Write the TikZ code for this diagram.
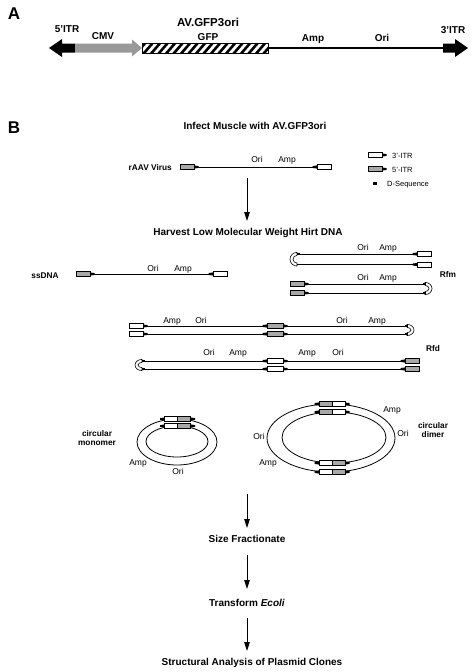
\documentclass[tikz,border=0pt]{standalone}
\usepackage{fontspec}
\setmainfont{Liberation Sans}
\usetikzlibrary{arrows.meta}
\definecolor{itrgray}{gray}{0.66}
\definecolor{cmvgray}{gray}{0.6}
\tikzset{
  txt/.style={inner sep=0pt, text height=0.72em, text depth=0pt},
  lab/.style={txt, font=\fontsize{8.5}{10}\selectfont},
  leg/.style={txt, font=\fontsize{7.5}{9}\selectfont, anchor=west},
  blab/.style={txt, font=\fontsize{8.3}{9.5}\selectfont\bfseries},
  blabtwo/.style={inner sep=0pt, align=center, font=\fontsize{8.3}{9.5}\selectfont\bfseries},
  ttl/.style={txt, font=\fontsize{10}{12}\selectfont\bfseries},
  alab/.style={txt, font=\fontsize{10}{12}\selectfont\bfseries},
  panel/.style={txt, font=\fontsize{17}{20}\selectfont\bfseries},
  dna/.style={line width=0.8pt},
  arr/.style={line width=0.9pt, -{Triangle[length=9pt,width=5.5pt]}},
  itr/.pic={
    \draw[line width=0.6pt, fill=#1] (0,-2.5) rectangle (14,2.5);
    \fill (14,-1.6) -- (18.5,-0.9) -- (18.5,0.9) -- (14,1.6) -- cycle;
  },
  midbox/.pic={
    \fill (0,-1.6) -- (-4.5,-0.9) -- (-4.5,0.9) -- (0,1.6) -- cycle;
    \draw[line width=0.6pt, fill=#1] (0,-2.5) rectangle (16,2.5);
    \fill (16,-1.6) -- (20.5,-0.9) -- (20.5,0.9) -- (16,1.6) -- cycle;
  },
  hairpin/.pic={
    \draw[line width=0.6pt, fill=white] (0,{-#1-1.6}) arc[start angle=270, end angle=90, x radius=7, y radius={#1+1.6}]
      -- (0,{#1-1.4}) arc[start angle=90, end angle=270, x radius=4, y radius={#1-1.4}] -- cycle;
    \fill (-0.5,{-#1-0.9}) rectangle (2.5,{-#1+0.9});
    \fill (-0.5,{#1-0.9}) rectangle (2.5,{#1+0.9});
  },
  pics/dbox/.style n args={2}{code={
    \fill (-13,-1.6) -- (-17.5,-0.9) -- (-17.5,0.9) -- (-13,1.6) -- cycle;
    \fill (13,-1.6) -- (17.5,-0.9) -- (17.5,0.9) -- (13,1.6) -- cycle;
    \draw[line width=0.6pt, fill=#1] (-13,-2.5) rectangle (0,2.5);
    \draw[line width=0.6pt, fill=#2] (0,-2.5) rectangle (13,2.5);
  }},
}
\begin{document}
\begin{tikzpicture}[x=1pt,y=-1pt]
\useasboundingbox (0,0) rectangle (474,672);
% ---------------- Part A ----------------
\node[panel] (labA) at (14,16) {A};
\fill (49,48) -- (62,39) -- (62,43.5) -- (75,43.5) -- (75,52.5) -- (62,52.5) -- (62,57) -- cycle;
\fill[cmvgray] (75,43.5) -- (132,43.5) -- (132,39.5) -- (142,48) -- (132,56.5) -- (132,52.5) -- (75,52.5) -- cycle;
\begin{scope}
  \clip (142,43.5) rectangle (268,53.5);
  \foreach \i in {134,141.5,...,276} \draw[line width=2.6pt] (\i,56) -- (\i+13,41);
\end{scope}
\draw[line width=0.8pt] (142,43.5) rectangle (268,53.5);
\draw[line width=1.2pt] (268,48) -- (443,48);
\fill (443,43.5) -- (455,43.5) -- (455,39) -- (468,48) -- (455,57) -- (455,52.5) -- (443,52.5) -- cycle;
\node[alab] (t5itr) at (67,29) {5'ITR};
\node[alab] (tcmv) at (103,36) {CMV};
\node[txt, font=\fontsize{11.5}{13}\selectfont\bfseries] (tav) at (208,23) {AV.GFP3ori};
\node[alab] (tgfp) at (208,37) {GFP};
\node[alab] (tamp) at (313,38) {Amp};
\node[alab] (tori) at (382,38) {Ori};
\node[alab] (t3itr) at (453,30) {3'ITR};
% ---------------- Part B ----------------
\node[panel] (labB) at (14,130) {B};
\node[ttl] (infect) at (255,126) {Infect Muscle with AV.GFP3ori};
% virus
\node[blab, anchor=east] (raav) at (172,167) {rAAV Virus};
\pic at (180,167) {itr=itrgray};
\draw[dna] (198,167) -- (313,167);
\pic[xscale=-1] at (331,167) {itr=white};
\node[lab] (vori) at (257,159) {Ori};
\node[lab] (vamp) at (287,159) {Amp};
% legend
\pic at (368,155) {itr=white};
\node[leg] (l3) at (392,155) {3'-ITR};
\pic at (368,169) {itr=itrgray};
\node[leg] (l5) at (392,169) {5'-ITR};
\fill (373,181.5) rectangle (377,184.5);
\node[leg] (ld) at (387,183) {D-Sequence};
% arrow 1
\coordinate (a1s) at (247,178);
\coordinate (a1e) at (247,221);
\draw[arr] (a1s) -- (a1e);
\node[ttl] (harvest) at (248,232) {Harvest Low Molecular Weight Hirt DNA};
% ssDNA
\node[blab] (ss) at (45,275) {ssDNA};
\pic at (76,274) {itr=itrgray};
\draw[dna] (94,274) -- (209,274);
\pic[xscale=-1] at (227,274) {itr=white};
\node[lab] (sori) at (153,268) {Ori};
\node[lab] (samp) at (183,268) {Amp};
% Rfm top
\pic at (297,259.25) {hairpin=5.25};
\draw[dna] (297,254) -- (413,254);
\draw[dna] (297,264.5) -- (413,264.5);
\pic[xscale=-1] at (431,254) {itr=white};
\pic[xscale=-1] at (431,264.5) {itr=white};
\node[lab] (m1ori) at (363,247) {Ori};
\node[lab] (m1amp) at (388,247) {Amp};
% Rfm bottom
\pic at (290,284) {itr=itrgray};
\pic at (290,293) {itr=itrgray};
\draw[dna] (308,284) -- (425,284);
\draw[dna] (308,293) -- (425,293);
\pic[xscale=-1] at (425,288.5) {hairpin=4.5};
\node[lab] (m2ori) at (363,277) {Ori};
\node[lab] (m2amp) at (388,277) {Amp};
\node[blab] (rfm) at (448,274) {Rfm};
% Rfd top
\foreach \yy in {326,334} {
  \pic at (129,\yy) {itr=white};
  \draw[dna] (147,\yy) -- (263,\yy);
  \pic at (267,\yy) {midbox=itrgray};
  \draw[dna] (287,\yy) -- (407,\yy);
}
\pic[xscale=-1] at (407,330) {hairpin=4};
\node[lab] (d1a) at (172,320) {Amp};
\node[lab] (d1b) at (201,320) {Ori};
\node[lab] (d1c) at (342,320) {Ori};
\node[lab] (d1d) at (377,320) {Amp};
% Rfd bottom
\pic at (142,365) {hairpin=4};
\foreach \yy in {361,369} {
  \draw[dna] (142,\yy) -- (263,\yy);
  \pic at (267,\yy) {midbox=white};
  \draw[dna] (287,\yy) -- (401,\yy);
  \pic[xscale=-1] at (419,\yy) {itr=itrgray};
}
\node[lab] (d2a) at (209,352) {Ori};
\node[lab] (d2b) at (238,352) {Amp};
\node[lab] (d2c) at (307,352) {Amp};
\node[lab] (d2d) at (338,352) {Ori};
\node[blab] (rfd) at (433,348) {Rfd};
% circular monomer
\draw[dna] (177,442) ellipse [x radius=40, y radius=23];
\draw[dna] (177,441.5) ellipse [x radius=31, y radius=15.5];
\pic at (177.5,419) {dbox={white}{itrgray}};
\pic at (177.5,426) {dbox={white}{itrgray}};
\node[blabtwo] (mono) at (97,438) {circular\\monomer};
\node[lab] (mamp) at (138,462) {Amp};
\node[lab] (mori) at (178,471) {Ori};
% circular dimer
\draw[dna] (331,438) ellipse [x radius=64, y radius=34];
\draw[dna] (334,437.5) ellipse [x radius=52, y radius=25.5];
\pic at (332,404) {dbox={itrgray}{white}};
\pic at (332,412) {dbox={itrgray}{white}};
\pic at (332,463) {dbox={white}{itrgray}};
\pic at (332,472) {dbox={white}{itrgray}};
\node[blabtwo] (dim) at (433,430) {circular\\dimer};
\node[lab] (dmamp1) at (392,409) {Amp};
\node[lab] (dmori1) at (403,433) {Ori};
\node[lab] (dmori2) at (259,436) {Ori};
\node[lab] (dmamp2) at (268,462) {Amp};
% flow
\coordinate (a2s) at (247,494);
\coordinate (a2e) at (247,528);
\draw[arr] (a2s) -- (a2e);
\node[ttl] (size) at (247,539) {Size Fractionate};
\coordinate (a3s) at (247,555);
\coordinate (a3e) at (247,589);
\draw[arr] (a3s) -- (a3e);
\node[ttl] (trans) at (247,603) {Transform \textit{Ecoli}};
\coordinate (a4s) at (247,618);
\coordinate (a4e) at (247,651);
\draw[arr] (a4s) -- (a4e);
\node[ttl] (struct) at (252,662) {Structural Analysis of Plasmid Clones};
\end{tikzpicture}
\end{document}
